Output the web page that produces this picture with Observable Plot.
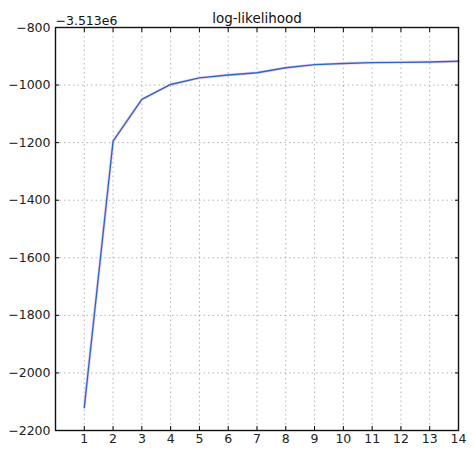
<!DOCTYPE html>
<html>
<head>
<meta charset="utf-8">
<script src="https://cdn.jsdelivr.net/npm/d3@7"></script>
<script src="https://cdn.jsdelivr.net/npm/@observablehq/plot@0.6"></script>
<style>
  html, body { margin: 0; padding: 0; background: #fff; }
  #chart svg { display: block; }
</style>
</head>
<body>
<div id="chart"></div>
<script>
const iterations = [1, 2, 3, 4, 5, 6, 7, 8, 9, 10, 11, 12, 13, 14];
const logLik = [-2120, -1195, -1050, -998, -975, -965, -957, -940, -929, -925, -922, -921, -920, -917];
const xTicks = [1, 2, 3, 4, 5, 6, 7, 8, 9, 10, 11, 12, 13, 14];
const yTicks = [-2200, -2000, -1800, -1600, -1400, -1200, -1000, -800];
const titleText = "log-likelihood";
const offsetText = "\u22123.513e6";

const data = iterations.map((x, i) => ({x, y: logLik[i]}));
const fmt = d => String(d).replace("-", "\u2212");

const chart = Plot.plot({
  width: 474,
  height: 455,
  marginLeft: 55,
  marginRight: 16,
  marginTop: 27,
  marginBottom: 25,
  style: {fontFamily: "DejaVu Sans", fontSize: "12.5px", background: "#fff", color: "#000"},
  x: {domain: [0, 14]},
  y: {domain: [-2200, -800]},
  marks: [
    Plot.gridX(xTicks, {stroke: "#888", strokeOpacity: 0.8, strokeDasharray: "1.5,3", strokeWidth: 0.8}),
    Plot.gridY(yTicks, {stroke: "#888", strokeOpacity: 0.8, strokeDasharray: "1.5,3", strokeWidth: 0.8}),
    Plot.axisX(xTicks, {anchor: "bottom", tickSize: 0, tickPadding: 4, label: null, tickFormat: d => String(d), fill: "#222"}),
    Plot.axisX(xTicks, {anchor: "bottom", tickSize: -4, text: null, label: null, stroke: "#000"}),
    Plot.axisX(xTicks, {anchor: "top", tickSize: -4, text: null, label: null, stroke: "#000"}),
    Plot.axisY(yTicks, {anchor: "left", tickSize: 0, tickPadding: 5, label: null, tickFormat: fmt, fill: "#222"}),
    Plot.axisY(yTicks, {anchor: "left", tickSize: -4, text: null, label: null, stroke: "#000"}),
    Plot.axisY(yTicks, {anchor: "right", tickSize: -4, text: null, label: null, stroke: "#000"}),
    Plot.line(data, {x: "x", y: "y", stroke: "#e9b7e3", strokeWidth: 3, strokeOpacity: 0.6}),
    Plot.line(data, {x: "x", y: "y", stroke: "#2a68c4", strokeWidth: 1.4}),
    Plot.frame({stroke: "#111", strokeWidth: 1.4}),
    Plot.text([titleText], {frameAnchor: "top", dy: -14, text: d => d, fontSize: 13.5, fill: "#111"}),
    Plot.text([offsetText], {frameAnchor: "top-left", textAnchor: "start", dy: -11, dx: 0, text: d => d, fontSize: 12.5, fill: "#111"})
  ]
});
document.getElementById("chart").appendChild(chart);
</script>
</body>
</html>
